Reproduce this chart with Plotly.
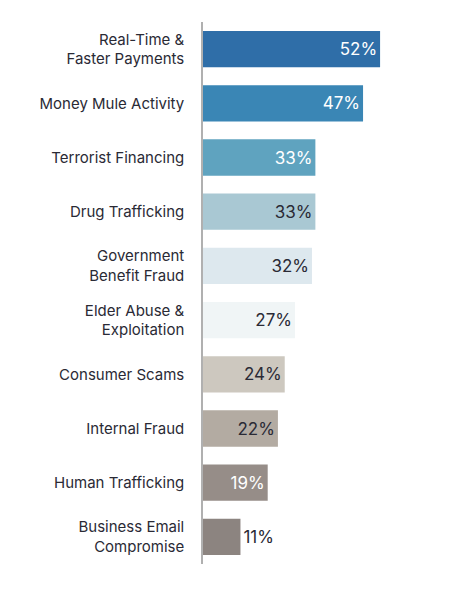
import plotly.graph_objects as go

categories = ["Real-Time &<br>Faster Payments", "Money Mule Activity", "Terrorist Financing",
              "Drug Trafficking", "Government<br>Benefit Fraud", "Elder Abuse &<br>Exploitation",
              "Consumer Scams", "Internal Fraud", "Human Trafficking", "Business Email<br>Compromise"]
values = [52, 47, 33, 33, 32, 27, 24, 22, 19, 11]
colors = ["#2f6ea8", "#3a86b5", "#5fa3bf", "#a9c8d3", "#dde8ee", "#f0f5f6",
          "#cdc8bf", "#b3aba2", "#968d88", "#8c8480"]
text_colors = ["white", "white", "white", "#2a2a35", "#2a2a35", "#2a2a35",
               "#2a2a35", "#2a2a35", "white", "#2a2a35"]
positions = ["inside"] * 9 + ["outside"]

fig = go.Figure(go.Bar(
    y=categories, x=values, orientation="h",
    marker=dict(color=colors, line=dict(width=0)),
    text=[f"{v}%" for v in values], textposition=positions,
    insidetextanchor="end",
    textfont=dict(color=text_colors, size=17, family="Inter"),
    cliponaxis=False,
))
fig.update_layout(
    width=474, height=594, plot_bgcolor="white", paper_bgcolor="white",
    margin=dict(l=195, r=27, t=14, b=38), bargap=0.33, showlegend=False,
    font=dict(family="Inter", color="#2a2a35"),
)
fig.update_xaxes(range=[0, 74], visible=False)
fig.update_yaxes(autorange="reversed", showline=True, linecolor="#b0b0b0", linewidth=1.5,
                 ticks="", ticklabelstandoff=14, tickfont=dict(size=15, color="#2a2a35"))
fig.write_html("out.html")
